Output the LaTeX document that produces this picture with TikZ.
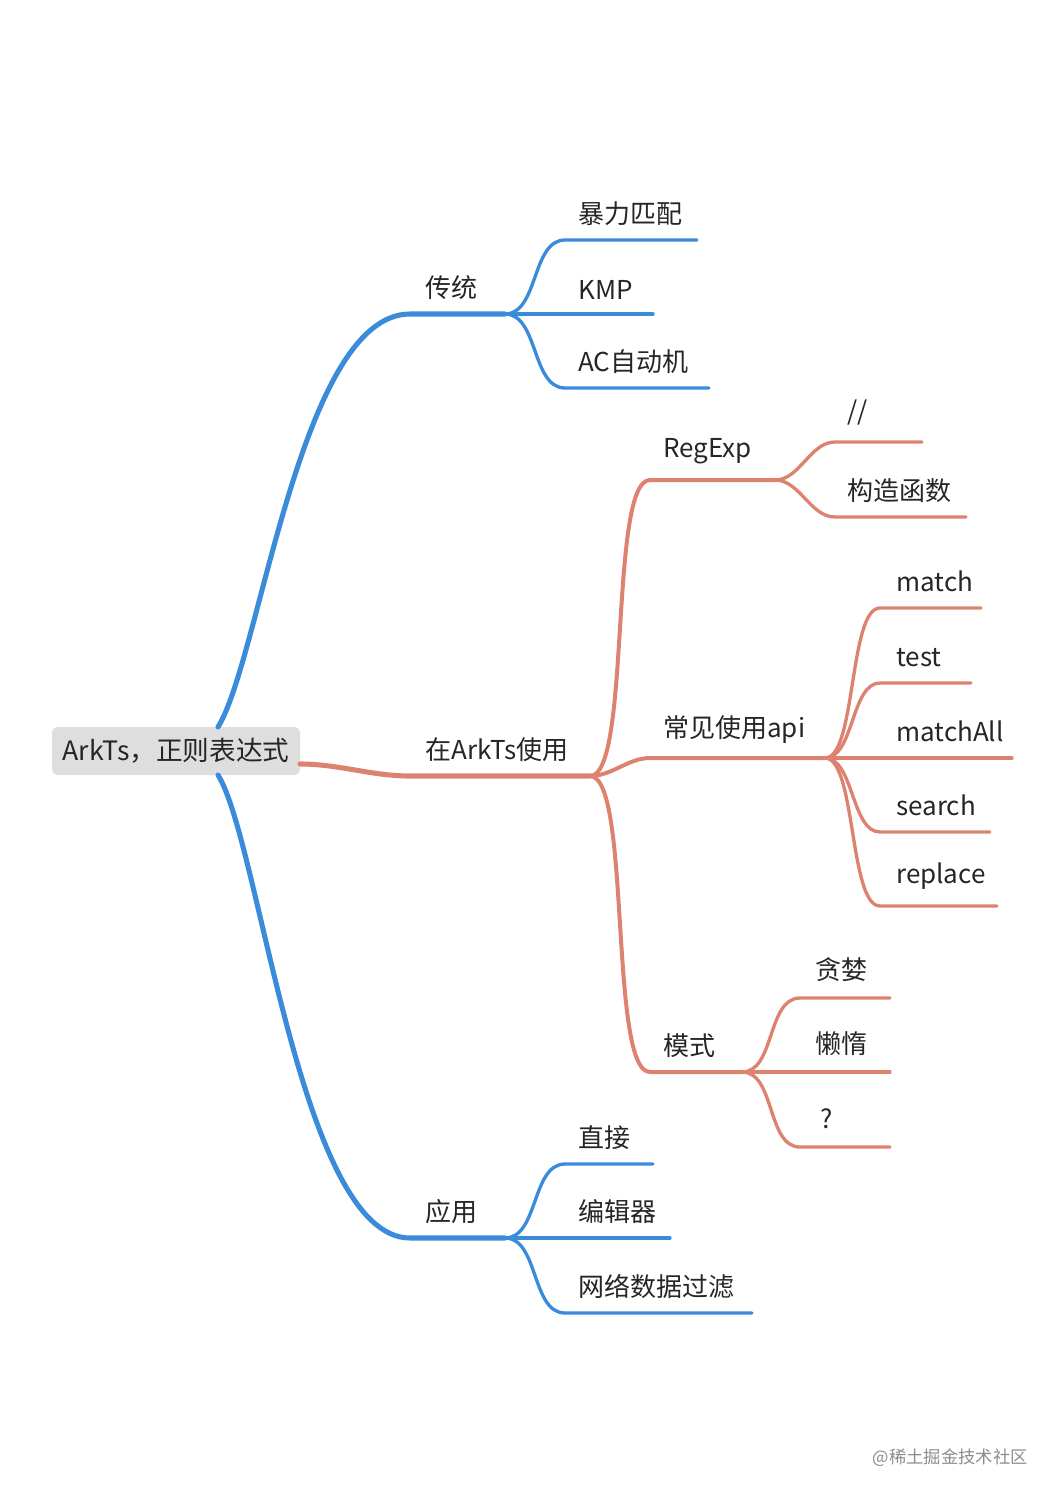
\documentclass[tikz,border=0pt]{standalone}
\usepackage{fontspec}
\setmainfont{Liberation Sans}
\newfontfamily\cjk{Noto Sans CJK SC}
\usetikzlibrary{positioning}
\definecolor{bluebr}{RGB}{59,139,219}
\definecolor{redbr}{RGB}{222,130,112}
\tikzset{
  lbl/.style={anchor=south west, inner sep=0pt, font=\fontsize{19.5}{22}\selectfont\cjk, text=black!85},
  thick1/.style={line width=3.8pt, line cap=round},
  thick2/.style={line width=3pt, line cap=round},
  thick3/.style={line width=2.5pt, line cap=round},
  curve/.style={out=0, in=180, looseness=0.9},
  steep/.style={out=0, in=180, looseness=0.35}
}
\begin{document}
\begin{tikzpicture}[x=0.75pt, y=-0.75pt]
\useasboundingbox (0,0) rectangle (1062,1502);
% root
\node[fill=black!13, rounded corners=4pt, minimum width=186pt, minimum height=36pt,
      font=\fontsize{20}{22}\selectfont\cjk, text=black!85] (root) at (176,751) {ArkTs，正则表达式};
\coordinate (root_t) at (218,727);
\coordinate (root_r) at (300,764);
\coordinate (root_b) at (218,775);
% level 1
\coordinate (c_0) at (410,314);   \coordinate (c_0e) at (505,314);
\coordinate (c_1) at (410,776);   \coordinate (c_1e) at (590,776);
\coordinate (c_2) at (410,1238);  \coordinate (c_2e) at (505,1238);
\draw[bluebr, thick1] (root_t) .. controls (260,660) and (300,314) .. (c_0) -- (c_0e);
\draw[redbr, thick1] (root_r) to[curve] (c_1) -- (c_1e);
\draw[bluebr, thick1] (root_b) .. controls (260,842) and (300,1238) .. (c_2) -- (c_2e);
\node[lbl] (t_0) at (425,300) {传统};
\node[lbl] (t_1) at (425,762) {在ArkTs使用};
\node[lbl] (t_2) at (425,1224) {应用};
% 传统
\coordinate (a_0) at (565,240); \coordinate (a_0e) at (697,240);
\coordinate (a_1) at (565,314); \coordinate (a_1e) at (653,314);
\coordinate (a_2) at (565,388); \coordinate (a_2e) at (709,388);
\draw[bluebr, thick3] (c_0e) to[curve] (a_0) -- (a_0e);
\draw[bluebr, thick3] (c_0e) -- (a_1e);
\draw[bluebr, thick3] (c_0e) to[curve] (a_2) -- (a_2e);
\node[lbl] (ta_0) at (578,226) {暴力匹配};
\node[lbl] (ta_1) at (578,300) {KMP};
\node[lbl] (ta_2) at (578,374) {AC自动机};
% 应用
\coordinate (b_0) at (565,1164); \coordinate (b_0e) at (653,1164);
\coordinate (b_2) at (565,1313); \coordinate (b_2e) at (752,1313);
\coordinate (b_1e) at (670,1238);
\draw[bluebr, thick3] (c_2e) to[curve] (b_0) -- (b_0e);
\draw[bluebr, thick3] (c_2e) -- (b_1e);
\draw[bluebr, thick3] (c_2e) to[curve] (b_2) -- (b_2e);
\node[lbl] (tb_0) at (578,1150) {直接};
\node[lbl] (tb_1) at (578,1224) {编辑器};
\node[lbl] (tb_2) at (578,1299) {网络数据过滤};
% 在ArkTs使用
\coordinate (r_0) at (650,480);  \coordinate (r_0e) at (775,480);
\coordinate (r_1) at (650,758);  \coordinate (r_1e) at (825,758);
\coordinate (r_2) at (650,1072); \coordinate (r_2e) at (742,1072);
\draw[redbr, thick2] (c_1e) to[steep] (r_0) -- (r_0e);
\draw[redbr, thick2] (c_1e) to[curve] (r_1) -- (r_1e);
\draw[redbr, thick2] (c_1e) to[steep] (r_2) -- (r_2e);
\node[lbl] (tr_0) at (663,464) {RegExp};
\node[lbl] (tr_1) at (663,744) {常见使用api};
\node[lbl] (tr_2) at (663,1058) {模式};
% RegExp
\coordinate (g_0) at (835,442); \coordinate (g_0e) at (922,442);
\coordinate (g_1) at (835,517); \coordinate (g_1e) at (966,517);
\draw[redbr, thick3] (r_0e) to[curve] (g_0) -- (g_0e);
\draw[redbr, thick3] (r_0e) to[curve] (g_1) -- (g_1e);
\node[lbl] (tg_0) at (847,425) {//};
\node[lbl] (tg_1) at (847,503) {构造函数};
% api
\foreach \nm/\y/\xe/\lo in {m_0/608/981/0.5, m_1/683/971/0.8, m_3/832/990/0.8, m_4/906/997/0.5}{
  \coordinate (\nm) at (880,\y);
  \coordinate (\nm e) at (\xe,\y);
  \draw[redbr, thick3] (r_1e) to[out=0, in=180, looseness=\lo] (\nm) -- (\nm e);
}
\coordinate (m_2e) at (1012,758);
\draw[redbr, thick3] (r_1e) -- (m_2e);
\node[lbl] (tm_0) at (896,592) {match};
\node[lbl] (tm_1) at (896,667) {test};
\node[lbl] (tm_2) at (896,742) {matchAll};
\node[lbl] (tm_3) at (896,816) {search};
\node[lbl] (tm_4) at (896,890) {replace};
% 模式
\coordinate (p_0) at (800,998);  \coordinate (p_0e) at (890,998);
\coordinate (p_2) at (800,1147); \coordinate (p_2e) at (890,1147);
\coordinate (p_1e) at (890,1072);
\draw[redbr, thick3] (r_2e) to[curve] (p_0) -- (p_0e);
\draw[redbr, thick3] (r_2e) -- (p_1e);
\draw[redbr, thick3] (r_2e) to[curve] (p_2) -- (p_2e);
\node[lbl] (tp_0) at (815,982) {贪婪};
\node[lbl] (tp_1) at (815,1056) {懒惰};
\node[lbl] (tp_2) at (820,1129) {?};
% mark
\node[anchor=east, inner sep=0pt, font=\fontsize{13}{15}\selectfont\cjk, text=black!45] (mark) at (1028,1458) {@稀土掘金技术社区};
\end{tikzpicture}
\end{document}
